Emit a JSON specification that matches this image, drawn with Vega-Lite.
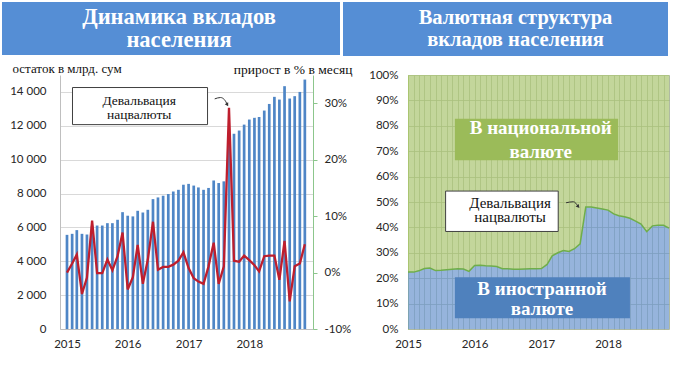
{
  "$schema": "https://vega.github.io/schema/vega-lite/v6.json",
  "padding": {"left": 2, "top": 2, "right": 0, "bottom": 0},
  "background": "white",
  "spacing": 6,
  "config": {
    "view": {"stroke": null},
    "axis": {"labelFont": "Lato", "labelFontSize": 11.5, "labelColor": "#262626", "titleFont": "Liberation Serif", "titleFontWeight": "normal", "titleFontSize": 13, "titleColor": "#111111", "labelOverlap": false}
  },
  "datasets": {
    "dep": [
      {"d": "2015-01-01", "total": 5560, "growth": 0.0, "foreign": 22.4, "national": 77.6},
      {"d": "2015-02-01", "total": 5620, "growth": 1.6, "foreign": 22.4, "national": 77.6},
      {"d": "2015-03-01", "total": 5840, "growth": 3.2, "foreign": 22.9, "national": 77.1},
      {"d": "2015-04-01", "total": 5620, "growth": -3.8, "foreign": 23.8, "national": 76.2},
      {"d": "2015-05-01", "total": 5580, "growth": -0.9, "foreign": 24.0, "national": 76.0},
      {"d": "2015-06-01", "total": 6100, "growth": 9.2, "foreign": 23.0, "national": 77.0},
      {"d": "2015-07-01", "total": 6110, "growth": -0.1, "foreign": 23.1, "national": 76.9},
      {"d": "2015-08-01", "total": 6110, "growth": -0.1, "foreign": 23.3, "national": 76.7},
      {"d": "2015-09-01", "total": 6250, "growth": 2.3, "foreign": 23.5, "national": 76.5},
      {"d": "2015-10-01", "total": 6250, "growth": 0.4, "foreign": 23.7, "national": 76.3},
      {"d": "2015-11-01", "total": 6450, "growth": 2.9, "foreign": 23.6, "national": 76.4},
      {"d": "2015-12-01", "total": 6900, "growth": 7.1, "foreign": 22.7, "national": 77.3},
      {"d": "2016-01-01", "total": 6690, "growth": -3.0, "foreign": 25.0, "national": 75.0},
      {"d": "2016-02-01", "total": 6650, "growth": -0.8, "foreign": 25.1, "national": 74.9},
      {"d": "2016-03-01", "total": 6980, "growth": 4.9, "foreign": 24.9, "national": 75.1},
      {"d": "2016-04-01", "total": 6880, "growth": -2.0, "foreign": 24.8, "national": 75.2},
      {"d": "2016-05-01", "total": 7040, "growth": 2.3, "foreign": 24.6, "national": 75.4},
      {"d": "2016-06-01", "total": 7670, "growth": 9.0, "foreign": 23.7, "national": 76.3},
      {"d": "2016-07-01", "total": 7770, "growth": 0.5, "foreign": 23.7, "national": 76.3},
      {"d": "2016-08-01", "total": 7870, "growth": 1.0, "foreign": 23.5, "national": 76.5},
      {"d": "2016-09-01", "total": 7970, "growth": 1.0, "foreign": 23.5, "national": 76.5},
      {"d": "2016-10-01", "total": 8120, "growth": 1.4, "foreign": 23.6, "national": 76.4},
      {"d": "2016-11-01", "total": 8220, "growth": 2.1, "foreign": 23.7, "national": 76.3},
      {"d": "2016-12-01", "total": 8520, "growth": 3.6, "foreign": 23.7, "national": 76.3},
      {"d": "2017-01-01", "total": 8570, "growth": 0.8, "foreign": 23.8, "national": 76.2},
      {"d": "2017-02-01", "total": 8470, "growth": -1.0, "foreign": 25.4, "national": 74.6},
      {"d": "2017-03-01", "total": 8360, "growth": -1.6, "foreign": 28.8, "national": 71.2},
      {"d": "2017-04-01", "total": 8220, "growth": -2.0, "foreign": 30.0, "national": 70.0},
      {"d": "2017-05-01", "total": 8330, "growth": 1.1, "foreign": 30.9, "national": 69.1},
      {"d": "2017-06-01", "total": 8770, "growth": 5.3, "foreign": 30.5, "national": 69.5},
      {"d": "2017-07-01", "total": 8620, "growth": -2.0, "foreign": 31.6, "national": 68.4},
      {"d": "2017-08-01", "total": 8720, "growth": 1.1, "foreign": 33.5, "national": 66.5},
      {"d": "2017-09-01", "total": 11250, "growth": 29.2, "foreign": 48.0, "national": 52.0},
      {"d": "2017-10-01", "total": 11530, "growth": 2.1, "foreign": 48.0, "national": 52.0},
      {"d": "2017-11-01", "total": 11720, "growth": 1.9, "foreign": 47.6, "national": 52.4},
      {"d": "2017-12-01", "total": 12070, "growth": 3.0, "foreign": 47.2, "national": 52.8},
      {"d": "2018-01-01", "total": 12370, "growth": 2.2, "foreign": 46.8, "national": 53.2},
      {"d": "2018-02-01", "total": 12470, "growth": 1.3, "foreign": 45.3, "national": 54.7},
      {"d": "2018-03-01", "total": 12520, "growth": 0.2, "foreign": 44.6, "national": 55.4},
      {"d": "2018-04-01", "total": 12900, "growth": 2.9, "foreign": 44.2, "national": 55.8},
      {"d": "2018-05-01", "total": 13290, "growth": 3.0, "foreign": 43.6, "national": 56.4},
      {"d": "2018-06-01", "total": 13710, "growth": 3.0, "foreign": 42.5, "national": 57.5},
      {"d": "2018-07-01", "total": 13550, "growth": -1.3, "foreign": 41.3, "national": 58.7},
      {"d": "2018-08-01", "total": 14340, "growth": 5.6, "foreign": 38.3, "national": 61.7},
      {"d": "2018-09-01", "total": 13610, "growth": -5.1, "foreign": 40.6, "national": 59.4},
      {"d": "2018-10-01", "total": 13750, "growth": 1.1, "foreign": 40.8, "national": 59.2},
      {"d": "2018-11-01", "total": 14000, "growth": 1.6, "foreign": 40.8, "national": 59.2},
      {"d": "2018-12-01", "total": 14730, "growth": 5.0, "foreign": 39.7, "national": 60.3}
    ]
  },
  "vconcat": [
    {
      "spacing": 3,
      "hconcat": [
        {
          "width": 338, "height": 53,
          "view": {"fill": "#558ed5", "stroke": null},
          "data": {"values": [{"t": "Динамика вкладов\nнаселения"}]},
          "mark": {"type": "text", "font": "Liberation Serif", "fontWeight": "bold", "fontSize": 22.5, "fill": "white", "lineBreak": "\n", "lineHeight": 23, "dx": 8, "dy": -11.5, "baseline": "middle", "align": "center"},
          "encoding": {"text": {"field": "t", "type": "nominal"}}
        },
        {
          "width": 325, "height": 54,
          "view": {"fill": "#558ed5", "stroke": null},
          "data": {"values": [{"t": "Валютная структура\nвкладов населения"}]},
          "mark": {"type": "text", "font": "Liberation Serif", "fontWeight": "bold", "fontSize": 20.5, "fill": "white", "lineBreak": "\n", "lineHeight": 22, "dx": 10, "dy": -11, "baseline": "middle", "align": "center"},
          "encoding": {"text": {"field": "t", "type": "nominal"}}
        }
      ]
    },
    {
      "spacing": 5,
      "hconcat": [
        {
          "width": 311, "height": 254,
          "encoding": {
            "x": {
              "field": "d", "type": "temporal",
              "scale": {"type": "utc", "range": [58, 311], "domain": [{"year": 2014, "month": 12, "date": 20, "utc": true}, {"year": 2018, "month": 12, "date": 20, "utc": true}]},
              "axis": {
                "title": null,
                "values": [{"year": 2015, "month": 1, "date": 1, "utc": true}, {"year": 2016, "month": 1, "date": 1, "utc": true}, {"year": 2017, "month": 1, "date": 1, "utc": true}, {"year": 2018, "month": 1, "date": 1, "utc": true}],
                "labelExpr": "utcFormat(datum.value, '%Y')",
                "ticks": false, "grid": false, "domainColor": "#bfbfbf", "labelPadding": 9, "labelFlush": false
              }
            }
          },
          "layer": [
            {
              "layer": [
                {
                  "data": {"name": "dep"},
                  "mark": {"type": "bar", "size": 2.7, "color": "#4f86c6"},
                  "encoding": {
                    "y": {
                      "field": "total", "type": "quantitative",
                      "scale": {"domain": [0, 15000], "nice": false},
                      "axis": {
                        "offset": -58,
                        "title": "остаток в млрд. сум", "titleAngle": 0, "titleAlign": "left", "titleBaseline": "alphabetic", "titleX": -48, "titleY": -3,
                        "values": [0, 2000, 4000, 6000, 8000, 10000, 12000, 14000], "tickCount": 20,
                        "labelExpr": "replace(format(datum.value, ','), ',', ' ')", "labelOverlap": false,
                        "ticks": false, "domainColor": "#bfbfbf", "gridColor": "#d9d9d9", "labelPadding": 14
                      }
                    }
                  }
                },
                {
                  "data": {"values": [{"d": "2015-02-03", "d2": "2017-04-25", "v": 14260, "v2": 12070}]},
                  "mark": {"type": "rect", "fill": "white", "stroke": "#404040", "strokeWidth": 1},
                  "encoding": {"x2": {"field": "d2"}, "y": {"field": "v", "type": "quantitative"}, "y2": {"field": "v2"}}
                },
                {
                  "data": {"values": [{"d": "2016-03-10", "v": 13050, "t": "Девальвация\nнацвалюты"}]},
                  "mark": {"type": "text", "font": "Liberation Serif", "fontSize": 13.5, "lineBreak": "\n", "lineHeight": 13.5, "dy": -6.75, "color": "#111111", "baseline": "middle"},
                  "encoding": {"y": {"field": "v", "type": "quantitative"}, "text": {"field": "t", "type": "nominal"}}
                },
                {
                  "data": {"values": [{"d": "2017-06-07", "v": 13590}, {"d": "2017-07-12", "v": 13670}, {"d": "2017-08-04", "v": 13550}, {"d": "2017-08-22", "v": 13250}]},
                  "mark": {"type": "line", "interpolate": "monotone", "color": "#333333", "strokeWidth": 1},
                  "encoding": {"y": {"field": "v", "type": "quantitative"}}
                },
                {
                  "data": {"values": [{"d": "2017-08-22", "v": 13250}]},
                  "mark": {"type": "point", "shape": "triangle-right", "angle": 60, "size": 16, "filled": true, "color": "#333333", "opacity": 1},
                  "encoding": {"y": {"field": "v", "type": "quantitative"}}
                }
              ]
            },
            {
              "data": {"name": "dep"},
              "mark": {"type": "line", "color": "#be1e2d", "strokeWidth": 2.3},
              "encoding": {
                "y": {
                  "field": "growth", "type": "quantitative",
                  "scale": {"domain": [-10, 35], "nice": false},
                  "axis": {
                    "orient": "right", "title": "прирост в % в месяц", "titleFontSize": 13.5, "titleAngle": 0, "titleAlign": "right", "titleBaseline": "alphabetic", "titleX": 39, "titleY": -1.5,
                    "values": [-10, 0, 10, 20, 30], "tickCount": 20, "labelExpr": "datum.value + '%'", "labelOverlap": false,
                    "grid": false, "domainColor": "#8cc68c", "tickColor": "#8cc68c", "tickSize": 4, "labelPadding": 7
                  }
                }
              }
            }
          ],
          "resolve": {"scale": {"y": "independent"}}
        },
        {
          "width": 312, "height": 254,
          "encoding": {
            "x": {
              "field": "d", "type": "temporal",
              "scale": {"type": "utc", "range": [51, 312], "domain": [{"year": 2015, "month": 1, "date": 1, "utc": true}, {"year": 2018, "month": 12, "date": 1, "utc": true}]},
              "axis": {
                "title": null, "tickCount": {"interval": "month", "step": 1},
                "labelExpr": "utcmonth(datum.value) == 0 ? utcFormat(datum.value, '%Y') : ''",
                "labelOverlap": false, "labelFlush": false, "ticks": false, "domain": false,
                "grid": true, "gridColor": "#9aa88a", "gridWidth": 0.8, "labelPadding": 9
              }
            }
          },
          "layer": [
            {
              "data": {"name": "dep"},
              "transform": [{"fold": ["foreign", "national"], "as": ["cur", "share"]}],
              "mark": {"type": "area", "opacity": 0.75},
              "encoding": {
                "y": {
                  "field": "share", "type": "quantitative", "stack": "zero",
                  "scale": {"domain": [0, 100], "nice": false},
                  "axis": {
                    "offset": -51,
                    "title": null, "values": [0, 10, 20, 30, 40, 50, 60, 70, 80, 90, 100], "tickCount": 20,
                    "labelExpr": "datum.value + '%'", "labelOverlap": false, "ticks": false, "domain": true, "domainColor": "#9bbb59",
                    "gridColor": "#9aa88a", "gridWidth": 0.8, "labelPadding": 10
                  }
                },
                "color": {"field": "cur", "type": "nominal", "scale": {"domain": ["foreign", "national"], "range": ["#739bd0", "#afc87a"]}, "legend": null},
                "order": {"field": "cur", "sort": "ascending"}
              }
            },
            {
              "data": {"name": "dep"},
              "mark": {"type": "line", "color": "#6fae4a", "strokeWidth": 1.5},
              "encoding": {"y": {"field": "foreign", "type": "quantitative"}}
            },
            {
              "data": {"values": [{"d": "2015-07-26", "d2": "2017-04-03", "p": 54.3, "p2": 38.4}]},
              "mark": {"type": "rect", "fill": "white", "stroke": "#404040", "strokeWidth": 1},
              "encoding": {"x2": {"field": "d2"}, "y": {"field": "p", "type": "quantitative"}, "y2": {"field": "p2"}}
            },
            {
              "data": {"values": [{"d": "2016-07-13", "p": 46.9, "t": "Девальвация\nнацвалюты"}]},
              "mark": {"type": "text", "font": "Liberation Serif", "fontSize": 15, "lineBreak": "\n", "lineHeight": 14.5, "dy": -7.25, "color": "#111111", "baseline": "middle"},
              "encoding": {"y": {"field": "p", "type": "quantitative"}, "text": {"field": "t", "type": "nominal"}}
            },
            {
              "data": {"values": [{"d": "2017-05-16", "p": 49.7}, {"d": "2017-06-25", "p": 50.1}, {"d": "2017-07-22", "p": 48.2}]},
              "mark": {"type": "line", "interpolate": "monotone", "color": "#333333", "strokeWidth": 1},
              "encoding": {"y": {"field": "p", "type": "quantitative"}}
            },
            {
              "data": {"values": [{"d": "2017-07-22", "p": 48.2}]},
              "mark": {"type": "point", "shape": "triangle-right", "angle": 50, "size": 16, "filled": true, "color": "#333333", "opacity": 1},
              "encoding": {"y": {"field": "p", "type": "quantitative"}}
            },
            {
              "data": {"values": [{"d": "2015-09-15", "d2": "2018-02-25", "p": 82.8, "p2": 66.4}]},
              "mark": {"type": "rect", "fill": "#9bbb59"},
              "encoding": {"x2": {"field": "d2"}, "y": {"field": "p", "type": "quantitative"}, "y2": {"field": "p2"}}
            },
            {
              "data": {"values": [{"d": "2016-12-28", "p": 74.5, "t": "В национальной\nвалюте"}]},
              "mark": {"type": "text", "font": "Liberation Serif", "fontWeight": "bold", "fontSize": 19, "lineBreak": "\n", "lineHeight": 24, "dy": -12, "color": "white", "baseline": "middle"},
              "encoding": {"y": {"field": "p", "type": "quantitative"}, "text": {"field": "t", "type": "nominal"}}
            },
            {
              "data": {"values": [{"d": "2015-09-15", "d2": "2018-05-01", "p": 20.4, "p2": 4.2}]},
              "mark": {"type": "rect", "fill": "#4f81bd"},
              "encoding": {"x2": {"field": "d2"}, "y": {"field": "p", "type": "quantitative"}, "y2": {"field": "p2"}}
            },
            {
              "data": {"values": [{"d": "2017-01-04", "p": 12.0, "t": "В иностранной\nвалюте"}]},
              "mark": {"type": "text", "font": "Liberation Serif", "fontWeight": "bold", "fontSize": 19, "lineBreak": "\n", "lineHeight": 20, "dy": -10, "color": "white", "baseline": "middle"},
              "encoding": {"y": {"field": "p", "type": "quantitative"}, "text": {"field": "t", "type": "nominal"}}
            }
          ]
        }
      ]
    }
  ]
}
